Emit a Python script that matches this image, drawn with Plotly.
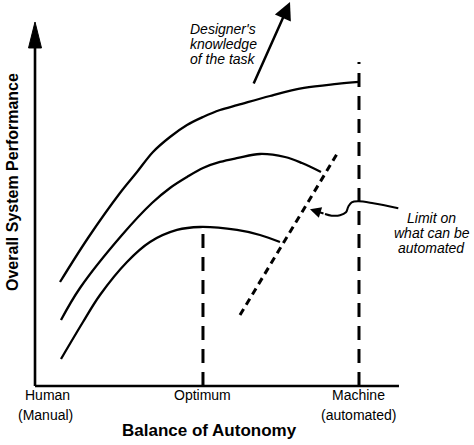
import plotly.graph_objects as go

# 坐标: x轴 Human=0, Machine=100 ; y轴 性能 0 在横轴上
# 三条性能曲线 (从图上读出的点)
top_x = [3.24, 12.30, 22.65, 28.16, 33.33, 38.83, 44.34, 49.51, 55.02, 60.84, 71.20, 82.20, 92.88, 100.0]
top_y = [28.57, 40.66, 53.02, 58.79, 64.29, 68.41, 71.70, 73.90, 75.82, 77.20, 79.67, 81.87, 82.97, 83.52]

mid_x = [3.56, 9.71, 23.30, 33.01, 38.83, 44.34, 49.51, 55.02, 60.84, 67.96, 76.05, 81.55, 87.70]
mid_y = [18.13, 26.92, 41.48, 50.27, 54.40, 57.42, 59.89, 61.54, 62.64, 63.74, 62.91, 61.26, 58.79]

low_x = [3.56, 10.68, 16.18, 24.92, 32.36, 41.10, 48.54, 60.52, 67.96, 74.43]
low_y = [7.42, 17.58, 25.0, 34.07, 39.56, 42.86, 43.68, 42.86, 41.48, 39.56]

# 虚线: Optimum, Machine, 自动化的极限
optimum_x = [49.51, 49.51]
optimum_y = [0, 42.86]
machine_x = [100.0, 100.0]
machine_y = [0, 89.01]
limit_x = [61.49, 92.88]
limit_y = [19.51, 63.74]

# 坐标轴
axis_x0 = -4.85
axis_x1 = 112.94
arrow_base = 92.86
arrow_tip = 100.0
arrow_half = 2.10

# 箭头 Designer's knowledge
designer_tail = (65.70, 82.69)
designer_tip = (77.67, 105.49)

# 弯曲的箭头 Limit on what can be automated
wave_x = [112.72, 104.63, 99.77, 97.64, 96.54, 95.79, 93.85, 91.17, 89.00]
wave_y = [48.82, 50.19, 50.74, 50.47, 49.26, 47.72, 46.90, 46.79, 47.25]
wave_tip = (84.14, 48.54)

# 文字
tick_labels = [('Human', -0.8, -2.47), ('(Manual)', -1.3, -7.88),
               ('Optimum', 49.5, -2.47),
               ('Machine', 99.7, -2.47), ('(automated)', 100.0, -7.88)]
designer_lines = ["Designer's", 'knowledge', 'of the task']
designer_text_x = 56.0
designer_text_y = [98.08, 93.96, 89.70]
limit_lines = ['Limit on', 'what can be', 'automated']
limit_text_x = 123.6
limit_text_y = [46.15, 42.03, 37.91]

FONT = 'Liberation Sans, Arial, sans-serif'

fig = go.Figure()

for xs, ys in [(top_x, top_y), (mid_x, mid_y), (low_x, low_y)]:
    fig.add_trace(go.Scatter(x=xs, y=ys, mode='lines',
                             line=dict(color='black', width=2.3, shape='spline', smoothing=1.0)))

fig.add_trace(go.Scatter(x=optimum_x, y=optimum_y, mode='lines',
                         line=dict(color='black', width=3, dash='14px,9px')))
fig.add_trace(go.Scatter(x=machine_x, y=machine_y, mode='lines',
                         line=dict(color='black', width=3, dash='14px,9px')))
fig.add_trace(go.Scatter(x=limit_x, y=limit_y, mode='lines',
                         line=dict(color='black', width=3, dash='7px,5px')))

# 横轴和纵轴
fig.add_trace(go.Scatter(x=[axis_x0, axis_x1], y=[0, 0], mode='lines',
                         line=dict(color='black', width=2.6)))
fig.add_trace(go.Scatter(x=[axis_x0, axis_x0], y=[0, arrow_base], mode='lines',
                         line=dict(color='black', width=2.6)))
fig.add_trace(go.Scatter(x=[axis_x0 - arrow_half, axis_x0, axis_x0 + arrow_half, axis_x0 - arrow_half],
                         y=[arrow_base, arrow_tip, arrow_base, arrow_base],
                         mode='lines', fill='toself', fillcolor='black',
                         line=dict(color='black', width=1)))

# 弯曲箭头的线
fig.add_trace(go.Scatter(x=wave_x, y=wave_y, mode='lines',
                         line=dict(color='black', width=2, shape='spline', smoothing=1.0)))

fig.add_annotation(x=designer_tip[0], y=designer_tip[1], ax=designer_tail[0], ay=designer_tail[1],
                   xref='x', yref='y', axref='x', ayref='y', text='', showarrow=True,
                   arrowhead=2, arrowsize=1.4, arrowwidth=2.5, arrowcolor='black', standoff=0)
fig.add_annotation(x=wave_tip[0], y=wave_tip[1], ax=wave_x[-1], ay=wave_y[-1],
                   xref='x', yref='y', axref='x', ayref='y', text='', showarrow=True,
                   arrowhead=2, arrowsize=1.1, arrowwidth=2, arrowcolor='black', standoff=0)

for txt, tx, ty in tick_labels:
    fig.add_annotation(x=tx, y=ty, text=txt, showarrow=False, xanchor='center', yanchor='middle',
                       font=dict(family=FONT, size=14, color='black'))

for txt, ty in zip(designer_lines, designer_text_y):
    fig.add_annotation(x=designer_text_x, y=ty, text='<i>' + txt + '</i>', showarrow=False,
                       xanchor='center', yanchor='middle',
                       font=dict(family=FONT, size=14, color='black'))

for txt, ty in zip(limit_lines, limit_text_y):
    fig.add_annotation(x=limit_text_x, y=ty, text='<i>' + txt + '</i>', showarrow=False,
                       xanchor='center', yanchor='middle',
                       font=dict(family=FONT, size=14, color='black'))

# 轴标题
fig.add_annotation(x=51.6, y=-12.09, text='<b>Balance of Autonomy</b>', showarrow=False,
                   xanchor='center', yanchor='middle',
                   font=dict(family=FONT, size=17, color='black'))
fig.add_annotation(x=-12.30, y=56.04, text='<b>Overall System Performance</b>', showarrow=False,
                   textangle=-90, xanchor='center', yanchor='middle',
                   font=dict(family=FONT, size=16, color='black'))

fig.update_layout(width=474, height=445, margin=dict(l=0, r=0, t=0, b=0),
                  paper_bgcolor='white', plot_bgcolor='white', showlegend=False,
                  hovermode=False)
fig.update_xaxes(visible=False, range=[-16.18, 137.22], fixedrange=True)
fig.update_yaxes(visible=False, range=[-16.21, 106.04], fixedrange=True)

# 页面默认有 8px 的 margin, 去掉
fig.write_html('out.html', config={'displayModeBar': False},
               post_script="document.body.style.margin='0px';")
